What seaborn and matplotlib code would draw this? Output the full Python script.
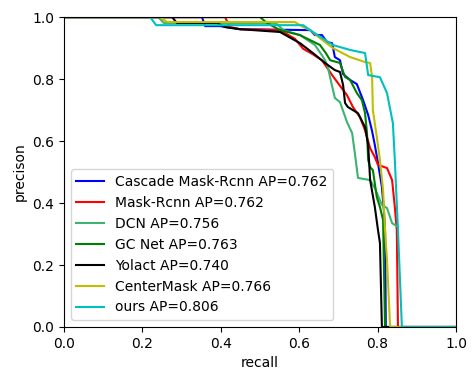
import matplotlib
matplotlib.use("Agg")
import matplotlib.pyplot as plt
import seaborn as sns
import pandas as pd

labels = ["Cascade Mask-Rcnn AP=0.762", "Mask-Rcnn AP=0.762", "DCN AP=0.756",
          "GC Net AP=0.763", "Yolact AP=0.740", "CenterMask AP=0.766", "ours AP=0.806"]
colors = ["#0000ff", "#ff0000", "#3cb371", "#008000", "#000000", "#bfbf00", "#00bfbf"]

cascade_x = [0, 0.352, 0.360, 0.398, 0.449, 0.628, 0.640, 0.658, 0.671, 0.684, 0.691, 0.704, 0.712,
             0.730, 0.747, 0.763, 0.776, 0.786, 0.793, 0.801, 0.811, 0.816, 0.819, 0.821, 1.0]
cascade_y = [1, 1, 0.971, 0.971, 0.961, 0.958, 0.942, 0.942, 0.919, 0.916, 0.871, 0.861, 0.816,
             0.797, 0.784, 0.732, 0.684, 0.632, 0.587, 0.529, 0.452, 0.377, 0.313, 0, 0]

mask_x = [0, 0.411, 0.423, 0.449, 0.551, 0.589, 0.610, 0.635, 0.658, 0.684, 0.699, 0.722, 0.737,
          0.755, 0.768, 0.781, 0.793, 0.801, 0.824, 0.837, 0.844, 0.849, 0.852, 1.0]
mask_y = [1, 1, 0.968, 0.961, 0.958, 0.93, 0.898, 0.88, 0.861, 0.813, 0.787, 0.748, 0.710,
          0.677, 0.635, 0.577, 0.548, 0.523, 0.513, 0.474, 0.387, 0.313, 0, 0]

dcn_x = [0, 0.24, 0.255, 0.54, 0.56, 0.602, 0.640, 0.658, 0.666, 0.673, 0.684, 0.691, 0.704,
         0.722, 0.735, 0.742, 0.750, 0.781, 0.793, 0.811, 0.824, 0.837, 0.852]
dcn_y = [1, 1, 0.981, 0.981, 0.958, 0.942, 0.910, 0.877, 0.861, 0.839, 0.777, 0.739, 0.726,
         0.661, 0.626, 0.561, 0.481, 0.474, 0.448, 0.394, 0.384, 0.335, 0.323]

gc_x = [0, 0.5, 0.518, 0.551, 0.602, 0.653, 0.668, 0.679, 0.704, 0.717, 0.730, 0.747, 0.760,
        0.768, 0.773, 0.776, 0.781, 0.788, 0.798, 0.806, 0.814, 0.819, 1.0]
gc_y = [1, 1, 0.981, 0.958, 0.942, 0.910, 0.884, 0.861, 0.852, 0.807, 0.797, 0.755, 0.732,
        0.690, 0.626, 0.539, 0.516, 0.506, 0.419, 0.387, 0.345, 0, 0]

yolact_x = [0, 0.276, 0.288, 0.390, 0.41, 0.449, 0.551, 0.602, 0.635, 0.666, 0.691, 0.704, 0.712,
            0.717, 0.724, 0.750, 0.768, 0.776, 0.781, 0.793, 0.801, 0.806, 0.811, 1.0]
yolact_y = [1, 1, 0.981, 0.981, 0.968, 0.961, 0.952, 0.916, 0.884, 0.852, 0.829, 0.823, 0.781,
            0.723, 0.710, 0.690, 0.645, 0.587, 0.474, 0.387, 0.313, 0.271, 0, 0]

center_x = [0, 0.245, 0.263, 0.589, 0.610, 0.628, 0.653, 0.686, 0.730, 0.768, 0.781, 0.786, 0.788,
            0.798, 0.806, 0.814, 0.819, 0.824, 0.832, 1.0]
center_y = [1, 1, 0.984, 0.984, 0.968, 0.958, 0.932, 0.900, 0.871, 0.855, 0.852, 0.806, 0.700,
            0.613, 0.539, 0.442, 0.313, 0.216, 0, 0]

ours_x = [0, 0.22, 0.235, 0.61, 0.635, 0.686, 0.730, 0.768, 0.776, 0.806, 0.824, 0.839, 0.844,
          0.852, 0.862, 1.0]
ours_y = [1, 1, 0.974, 0.974, 0.952, 0.91, 0.894, 0.884, 0.813, 0.806, 0.755, 0.658, 0.539,
          0.313, 0, 0]

series = [(cascade_x, cascade_y), (mask_x, mask_y), (dcn_x, dcn_y), (gc_x, gc_y),
          (yolact_x, yolact_y), (center_x, center_y), (ours_x, ours_y)]

frames = []
for i, (xs, ys) in enumerate(series):
    frames.append(pd.DataFrame({"recall": xs, "precision": ys, "model": labels[i],
                                "order": range(len(xs))}))
df = pd.concat(frames, ignore_index=True)

fig, ax = plt.subplots(figsize=(4.74, 3.72), dpi=100)
fig.subplots_adjust(left=0.135, right=0.962, top=0.954, bottom=0.121)

sns.lineplot(data=df, x="recall", y="precision", hue="model", hue_order=labels,
             palette=dict(zip(labels, colors)), sort=False, estimator=None,
             units="model", linewidth=1.5, ax=ax)

ax.set_xlim(0, 1)
ax.set_ylim(0, 1)
ax.set_xticks([0, 0.2, 0.4, 0.6, 0.8, 1.0])
ax.set_yticks([0, 0.2, 0.4, 0.6, 0.8, 1.0])
ax.set_xlabel("recall")
ax.set_ylabel("precison")
ax.legend(loc="lower left", fontsize=10)

fig.savefig("out.png", dpi=100)
